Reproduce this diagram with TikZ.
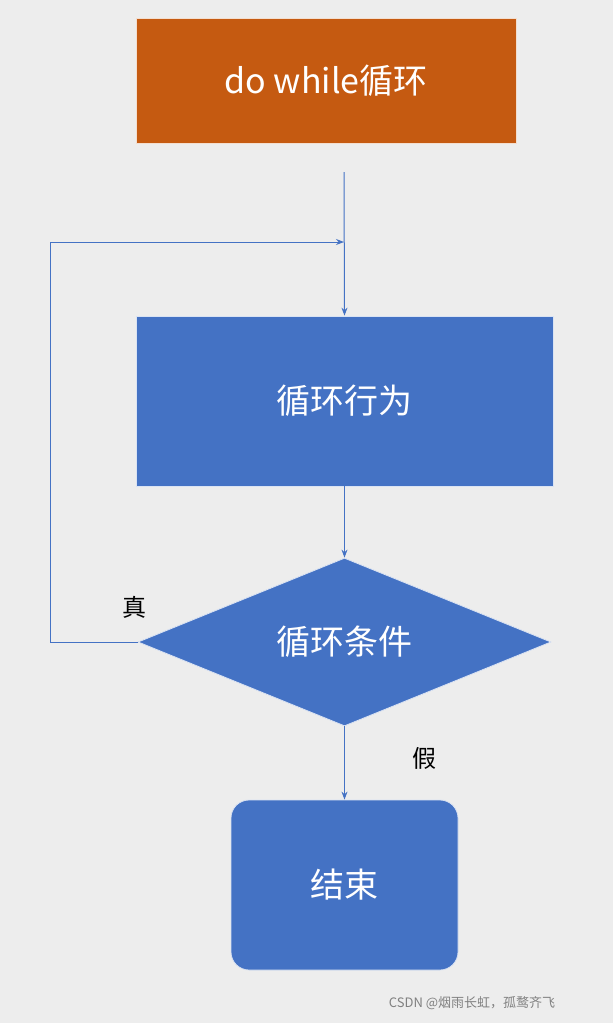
\documentclass[tikz,border=0pt]{standalone}
\usepackage{fontspec}
\setmainfont{Noto Sans CJK SC}
\usetikzlibrary{shapes.geometric,arrows.meta}
\definecolor{bg}{HTML}{EDEDED}
\definecolor{org}{HTML}{C55A11}
\definecolor{blu}{HTML}{4472C4}
\begin{document}
\begin{tikzpicture}[x=1pt,y=-1pt,
  box/.style={fill=#1,draw=white!80!#1,line width=0.8pt,text=white,font=\fontsize{34}{40}\selectfont,inner sep=0pt},
  conn/.style={draw=blu,line width=1pt,-{Stealth[length=8pt,width=6pt]}},
  lab/.style={font=\fontsize{24}{28}\selectfont,text=black}]
\fill[bg] (0,0) rectangle (613,1023);
\useasboundingbox (0,0) rectangle (613,1023);
\node[box=org,minimum width=380pt,minimum height=125pt] (top) at (326,80.5) {do while循环};
\node[box=blu,minimum width=417pt,minimum height=170pt] (act) at (344.5,401) {循环行为};
\node[box=blu,diamond,aspect=2.46,minimum width=413pt,minimum height=168pt] (cond) at (344.5,642) {};
\node[text=white,font=\fontsize{34}{40}\selectfont] at (cond.center) {循环条件};
\node[box=blu,rounded corners=18pt,minimum width=227pt,minimum height=170pt] (end) at (344.5,885) {结束};
\coordinate (s) at (344,172);
\coordinate (j) at (344,242);
\coordinate (l) at (50,242);
\draw[conn] (s) -- (act.north);
\draw[conn] (act.south) -- (cond.north);
\draw[conn] (cond.south) -- (end.north);
\draw[conn] (cond.west) -| (l) -- (j);
\node[lab] (t) at (134,607) {真};
\node[lab] (f) at (424,758) {假};
\node[font=\fontsize{13}{15}\selectfont,text=gray] (w) at (472,1003) {CSDN @烟雨长虹，孤鹜齐飞};
\end{tikzpicture}
\end{document}
